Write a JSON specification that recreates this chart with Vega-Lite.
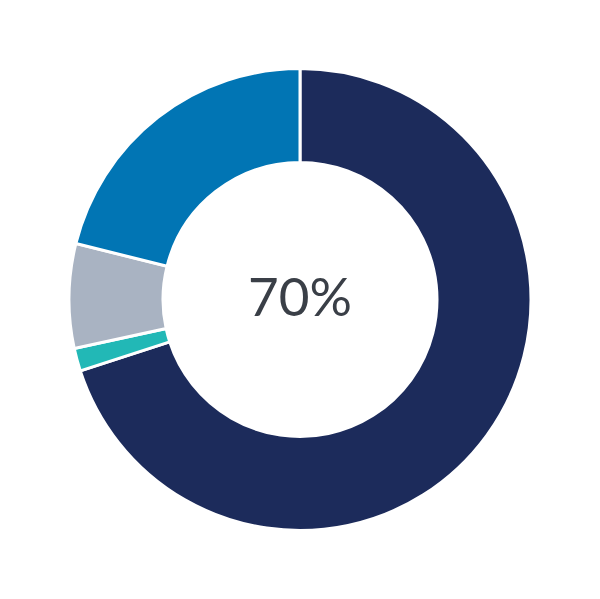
{
  "$schema": "https://vega.github.io/schema/vega-lite/v6.json",
  "width": 600,
  "height": 599,
  "autosize": {"type": "fit", "contains": "padding"},
  "padding": 0,
  "background": "white",
  "layer": [
    {
      "data": {
        "values": [
          {"segment": "A", "value": 70, "order": 1},
          {"segment": "B", "value": 1.6, "order": 2},
          {"segment": "C", "value": 7.3, "order": 3},
          {"segment": "D", "value": 21.1, "order": 4}
        ]
      },
      "mark": {"type": "arc", "outerRadius": 231, "innerRadius": 137, "stroke": "white", "strokeWidth": 3},
      "encoding": {
        "theta": {"field": "value", "type": "quantitative", "stack": true},
        "order": {"field": "order", "type": "quantitative"},
        "color": {
          "field": "segment",
          "type": "nominal",
          "scale": {"domain": ["A", "B", "C", "D"], "range": ["#1c2b5b", "#22b8b6", "#a9b3c2", "#0175b4"]},
          "legend": null
        }
      }
    },
    {
      "data": {"values": [{"label": "70%"}]},
      "mark": {"type": "text", "font": "Lato", "fontSize": 53, "color": "#3a3f47", "baseline": "middle", "align": "center"},
      "encoding": {"text": {"field": "label", "type": "nominal"}}
    }
  ],
  "config": {"view": {"stroke": null}}
}
